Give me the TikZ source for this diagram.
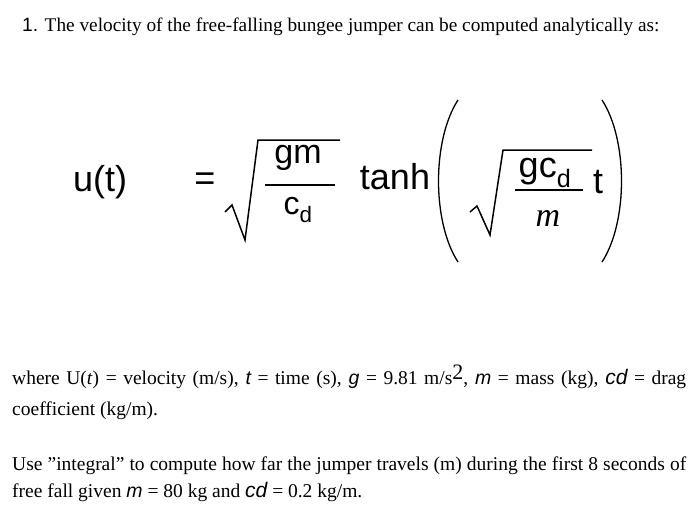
\documentclass[tikz,border=0pt]{standalone}
\usepackage{fontspec}
\setmainfont{Liberation Serif}
\newfontfamily\arialf{Liberation Sans}
\begin{document}
\begin{tikzpicture}[x=1pt,y=-1pt,
  body/.style={anchor=north west,inner sep=0pt,text width=674pt,align=justify,font=\fontsize{19.5}{31}\selectfont},
  fm/.style={inner sep=0pt,font=\arialf\fontsize{36}{36}\selectfont}]
\useasboundingbox (0,0) rectangle (700,516);
\node[anchor=west,inner sep=0pt,font=\fontsize{19.3}{20}\selectfont] (title) at (22,27) {{\arialf 1.} The velocity of the free-falling bungee jumper can be computed analytically as:};
% formula
\node[fm] (u) at (100,182) {u(t)};
\node[fm] (eq) at (205,182) {=};
\draw[line width=1.5pt] (225,212) -- (232,205) -- (245,240) -- (258,140) -- (340,140);
\node[fm,font=\arialf\fontsize{34}{34}\selectfont] (gm) at (298,158) {gm};
\draw[line width=1.2pt] (265,185) -- (335,185);
\node[fm,font=\arialf\fontsize{32}{32}\selectfont] (cd) at (298,210) {c\textsubscript{d}};
\node[fm] (tanh) at (395,177) {tanh};
\coordinate (lpt) at (458,100);
\coordinate (lpb) at (458,262);
\draw[line width=1.3pt] (lpt) .. controls (432,140) and (432,222) .. (lpb);
\coordinate (rpt) at (602,100);
\coordinate (rpb) at (602,262);
\draw[line width=1.3pt] (rpt) .. controls (628,140) and (628,222) .. (rpb);
\draw[line width=1.5pt] (470,212) -- (477,206) -- (490,235) -- (503,150) -- (592,150);
\node[fm] (gc) at (545,173) {gc\textsubscript{d}};
\draw[line width=1.2pt] (515,190) -- (583,190);
\node[inner sep=0pt,font=\fontsize{34}{34}\selectfont\itshape] (m) at (548,218) {m};
\node[fm] (t) at (598,182) {t};
% text
\node[body] (p1) at (12,365) {where U(\textit{t}) = velocity (m/s), {\arialf\itshape t} = time (s), {\arialf\itshape g} = 9.81 m/s\raisebox{0.5ex}{\fontsize{22}{22}\selectfont 2}, {\arialf\itshape m} = mass (kg), {\arialf\itshape\fontsize{21}{21}\selectfont cd} = drag coefficient (kg/m).};
\node[body,font=\fontsize{19.5}{27}\selectfont] (p2) at (12,457) {Use ”integral” to compute how far the jumper travels (m) during the first 8 seconds of free fall given {\arialf\itshape m} = 80 kg and {\arialf\itshape\fontsize{21}{21}\selectfont cd} = 0.2 kg/m.};
\end{tikzpicture}
\end{document}
